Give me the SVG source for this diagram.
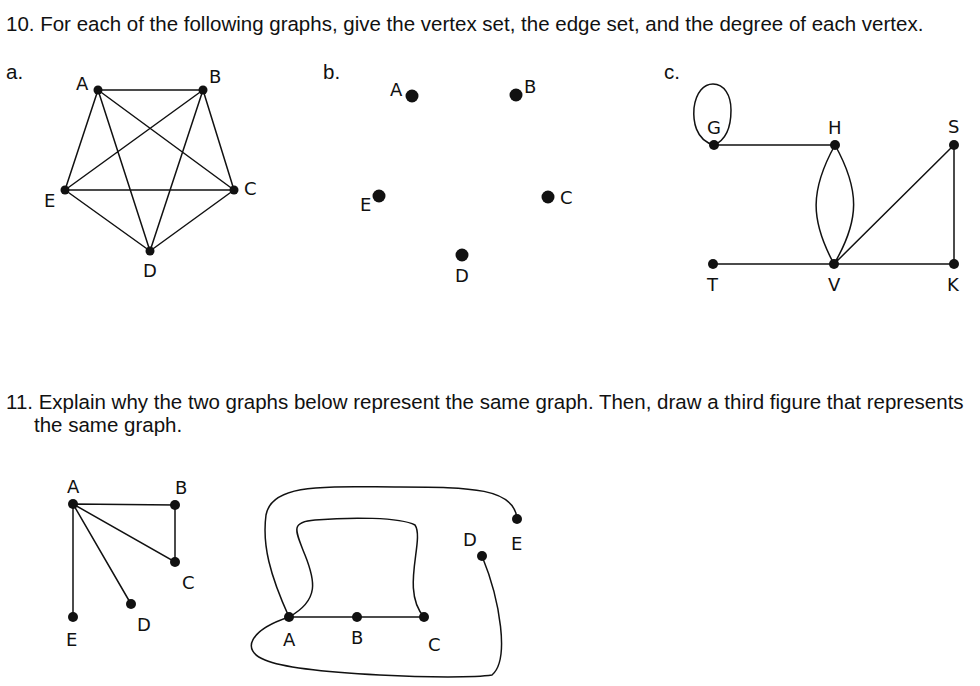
<svg xmlns="http://www.w3.org/2000/svg" width="980" height="686" viewBox="0 0 980 686">
<style>
.t{font-family:"Liberation Sans",Arial,sans-serif;font-size:20.5px;fill:#111}
.l{font-family:"DejaVu Sans",sans-serif;font-size:18px;fill:#111}
.e{stroke:#111;stroke-width:1.5;fill:none}
.v{fill:#111}
</style>
<rect width="980" height="686" fill="#fff"/>
<text class="t" x="6" y="31">10.  For each of the following graphs, give the vertex set, the edge set, and the degree of each vertex.</text>
<text class="t" x="6" y="79">a.</text>
<text class="t" x="323" y="79">b.</text>
<text class="t" x="664" y="79">c.</text>
<text class="t" x="6" y="409">11.  Explain why the two graphs below represent the same graph.  Then, draw a third figure that represents</text>
<text class="t" x="34" y="432">the same graph.</text>
<g id="connectors">
<path class="e" d="M98,90L203,90M98,90L234,190M98,90L150,251M98,90L65,190M203,90L234,190M203,90L150,251M203,90L65,190M234,190L150,251M234,190L65,190M150,251L65,190"/>
<path class="e" d="M714,145C695,140 693,120 694,108C696,92 704,84 713,84C724,84 731,95 731,110C731,128 726,140 714,145"/>
<path class="e" d="M714,145L835,145M835,145C810,190 810,220 834,264M835,145C860,190 860,220 834,264M834,264L954,145M954,145L954,264M713,264L954,264"/>
<path class="e" d="M73,504L175,505L175,562L73,504M73,504L131,604M73,504L73,617"/>
<path class="e" d="M289,617L424,617"/>
<path class="e" d="M289,617C270,575 262,545 266,515C272,482 330,487 400,487C470,487 515,488 517,519"/>
<path class="e" d="M289,617C320,600 315,580 305,555C295,530 290,522 315,520C350,517 400,517 415,525C425,540 400,590 424,617"/>
<path class="e" d="M289,617C250,630 240,650 265,660C300,675 460,680 492,675C510,660 500,600 482,556"/>
</g>
<g id="graph-a">
<circle class="v" cx="98" cy="90" r="4.5"/><circle class="v" cx="203" cy="90" r="4.5"/><circle class="v" cx="234" cy="190" r="4.5"/><circle class="v" cx="150" cy="251" r="4.5"/><circle class="v" cx="65" cy="190" r="4.5"/>
<text class="l" x="76" y="90">A</text><text class="l" x="209" y="83">B</text><text class="l" x="244" y="195">C</text><text class="l" x="143" y="277">D</text><text class="l" x="44" y="207">E</text>
</g>
<g id="graph-b">
<circle class="v" cx="412" cy="96" r="6.5"/><circle class="v" cx="516" cy="95" r="6.5"/><circle class="v" cx="548" cy="197" r="6.5"/><circle class="v" cx="462" cy="255" r="6.5"/><circle class="v" cx="379" cy="196" r="6.5"/>
<text class="l" x="390" y="96">A</text><text class="l" x="524" y="93">B</text><text class="l" x="560" y="204">C</text><text class="l" x="455" y="282">D</text><text class="l" x="360" y="211">E</text>
</g>
<g id="graph-c">
<circle class="v" cx="714" cy="145" r="5"/><circle class="v" cx="835" cy="145" r="5"/><circle class="v" cx="954" cy="145" r="5"/><circle class="v" cx="713" cy="264" r="5"/><circle class="v" cx="834" cy="264" r="5"/><circle class="v" cx="954" cy="264" r="5"/>
<text class="l" x="707" y="134">G</text><text class="l" x="828" y="134">H</text><text class="l" x="948" y="133">S</text><text class="l" x="707" y="291">T</text><text class="l" x="828" y="291">V</text><text class="l" x="947" y="291">K</text>
</g>
<g id="graph-11a">
<circle class="v" cx="73" cy="504" r="5"/><circle class="v" cx="175" cy="505" r="5"/><circle class="v" cx="175" cy="562" r="5"/><circle class="v" cx="131" cy="604" r="5"/><circle class="v" cx="73" cy="617" r="5"/>
<text class="l" x="67" y="493">A</text><text class="l" x="175" y="494">B</text><text class="l" x="182" y="589">C</text><text class="l" x="137" y="631">D</text><text class="l" x="66" y="646">E</text>
</g>
<g id="graph-11b">
<circle class="v" cx="289" cy="617" r="5"/><circle class="v" cx="357" cy="617" r="5"/><circle class="v" cx="424" cy="617" r="5"/><circle class="v" cx="482" cy="556" r="5"/><circle class="v" cx="517" cy="519" r="5"/>
<text class="l" x="283" y="646">A</text><text class="l" x="351" y="644">B</text><text class="l" x="428" y="651">C</text><text class="l" x="463" y="546">D</text><text class="l" x="511" y="550">E</text>
</g>
</svg>
